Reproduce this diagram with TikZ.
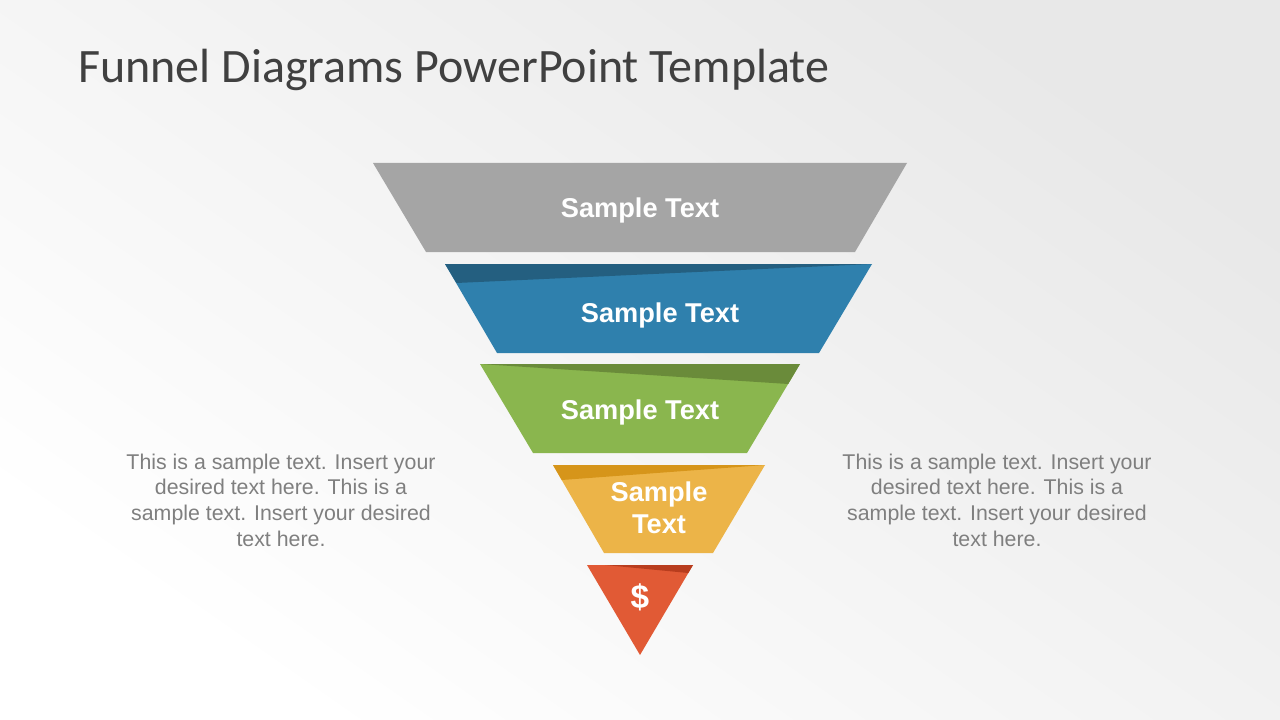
\documentclass[tikz,border=0pt]{standalone}
\usepackage{fontspec}
\setmainfont{Liberation Sans}
\newfontfamily\titlefont{Carlito}
\definecolor{bgtop}{HTML}{E8E8E8}
\definecolor{titlecol}{HTML}{404040}
\definecolor{bodycol}{HTML}{7F7F7F}
\definecolor{graymain}{HTML}{A5A5A5}
\definecolor{bluemain}{HTML}{2F80AD}
\definecolor{bluedark}{HTML}{245F80}
\definecolor{greenmain}{HTML}{8AB64E}
\definecolor{greendark}{HTML}{6A8B3A}
\definecolor{yellowmain}{HTML}{ECB448}
\definecolor{yellowdark}{HTML}{D6951A}
\definecolor{redmain}{HTML}{E15A35}
\definecolor{reddark}{HTML}{B83D1E}
\tikzset{
  layerlabel/.style={text=white, font=\bfseries\fontsize{20.4}{24}\selectfont, align=center, inner sep=0pt},
  sidetext/.style={text=bodycol, font=\fontsize{16}{19.3}\selectfont, align=center, inner sep=0pt},
}
\begin{document}
\begin{tikzpicture}[x=0.75pt,y=-0.75pt]
\useasboundingbox (0,0) rectangle (1280,720);
\shade[top color=bgtop, bottom color=white, shading angle=-35] (0,0) rectangle (1280,720);
% title
\node[anchor=base west, inner sep=0pt, text=titlecol, font=\titlefont\fontsize{36}{40}\selectfont] (title) at (78,83) {Funnel Diagrams PowerPoint Template};
% layer 1
\fill[graymain] (373,163) -- (907,163) -- (855,252) -- (426,252) -- cycle;
\node[layerlabel] (l1) at (640,210) {Sample Text};
% layer 2
\fill[bluemain] (445,264) -- (872,264) -- (819,353) -- (497,353) -- cycle;
\fill[bluedark] (445,264) -- (872,264) -- (456.5,283) -- cycle;
\node[layerlabel] (l2) at (660,315) {Sample Text};
% layer 3
\fill[greenmain] (480,364) -- (800,364) -- (747,453) -- (533,453) -- cycle;
\fill[greendark] (480,364) -- (800,364) -- (788.2,384) -- cycle;
\node[layerlabel] (l3) at (640,412) {Sample Text};
% layer 4
\fill[yellowmain] (553,465) -- (765,465) -- (713,553) -- (604,553) -- cycle;
\fill[yellowdark] (553,465) -- (765,465) -- (561.7,480) -- cycle;
\node[layerlabel] (l4) at (659,508) {Sample\\Text};
% layer 5
\fill[redmain] (587,565) -- (693,565) -- (640,655) -- cycle;
\fill[reddark] (605,565) -- (693,565) -- (688.3,573) -- cycle;
\node[layerlabel, font=\bfseries\fontsize{25}{28}\selectfont] (l5) at (640,597) {\$};
% side texts
\node[sidetext] (left) at (281,500) {This is a sample text. Insert your\\desired text here. This is a\\sample text. Insert your desired\\text here.};
\node[sidetext] (right) at (997,500) {This is a sample text. Insert your\\desired text here. This is a\\sample text. Insert your desired\\text here.};
\end{tikzpicture}
\end{document}
